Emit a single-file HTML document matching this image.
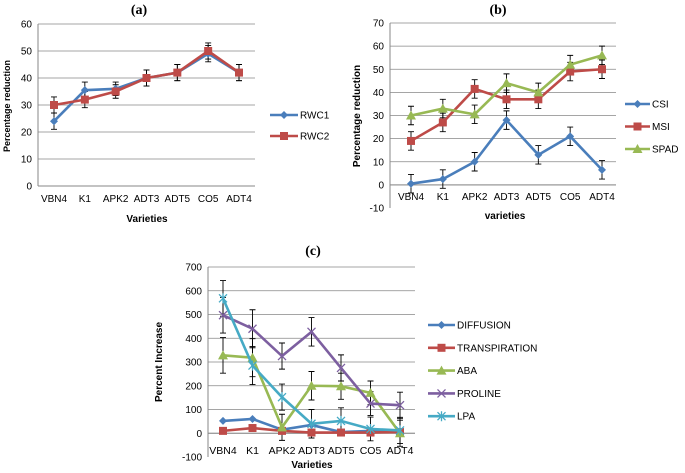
<!DOCTYPE html>
<html><head><meta charset="utf-8"><style>
body{margin:0;background:#fff;}
svg{display:block;font-family:"Liberation Sans",sans-serif;}
</style></head><body>
<svg id="s" width="685" height="473"></svg>
<script>
const cats=["VBN4","K1","APK2","ADT3","ADT5","CO5","ADT4"];
const rwc1=[24,35.5,36,40,42,49,42];
const rwc2=[30,32,35,40,42,50,42];
const rwcErr=[3,3,2.5,3,3,3,3];
const csi=[0.5,2.5,10,28,13,21,6.5];
const msi=[19,27,41.5,37,37,49,50];
const spad=[30,33,30.5,44,40,52,56];
const bErr=[4,4,4,4,4,4,4];
const diffusion=[52,60,15,35,5,10,5];
const transp=[10,22,10,3,3,3,5];
const aba=[328,318,25,200,198,170,0];
const proline=[497,440,325,427,275,125,118];
const lpa=[568,285,152,40,52,18,12];
const cErr=[75,80,55,60,55,50,55];
const ticksA=[0,10,20,30,40,50,60];
const ticksB=[-10,0,10,20,30,40,50,60,70];
const ticksC=[-100,0,100,200,300,400,500,600,700];

const S=document.getElementById('s');
const NS="http://www.w3.org/2000/svg";
function el(t,a,p){const e=document.createElementNS(NS,t);for(const k in a)e.setAttribute(k,a[k]);(p||S).appendChild(e);return e;}
const BLUE="#4a7ebb",RED="#be4b48",GREEN="#98b954",PURPLE="#7d5fa0",CYAN="#46aac5";

function marker(g,type,x,y,c){
  let m;
  if(type==="d")m=el('polygon',{points:`${x},${y-4} ${x+4},${y} ${x},${y+4} ${x-4},${y}`,fill:c},g);
  else if(type==="s")m=el('rect',{x:x-4,y:y-4,width:8,height:8,fill:c},g);
  else if(type==="t")m=el('polygon',{points:`${x},${y-5} ${x+5},${y+4} ${x-5},${y+4}`,fill:c},g);
  else if(type==="x"){m=el('path',{d:`M${x-4} ${y-4}L${x+4} ${y+4}M${x-4} ${y+4}L${x+4} ${y-4}`,stroke:c,'stroke-width':1.3,fill:'none'},g);}
  else {m=el('path',{d:`M${x-4} ${y-4}L${x+4} ${y+4}M${x-4} ${y+4}L${x+4} ${y-4}M${x} ${y-5}L${x} ${y+5}`,stroke:c,'stroke-width':1.3,fill:'none'},g);}
  
  
}

function chart(o){
  const g=el('g',{});
  
  
  const ymin=o.ticks[0],ymax=o.ticks[o.ticks.length-1];
  const Y=v=>o.y0-(v-ymin)/(ymax-ymin)*(o.y0-o.y1);
  const X=i=>o.cx0+i*(o.cx1-o.cx0)/(cats.length-1);
  o.ticks.forEach(t=>{
    if(t!==ymin)el('line',{x1:o.px0,x2:o.px1,y1:Y(t),y2:Y(t),stroke:'#878787','stroke-width':0.8},g);
    const tx=el('text',{x:o.px0-6,y:Y(t)+3.5,'text-anchor':'end','font-size':10,fill:'#000'},g);tx.textContent=t;
    
    
  });
  el('line',{x1:o.px0,x2:o.px0,y1:o.y1,y2:o.y0,stroke:'#878787'},g);
  const ay=Y(o.axisAt);
  el('line',{x1:o.px0,x2:o.px1,y1:ay,y2:ay,stroke:'#878787'},g);
  cats.forEach((c,i)=>{
    const tx=el('text',{x:X(i),y:o.labY,'text-anchor':'middle','font-size':o.catFs||10},g);tx.textContent=c;
    
    
  });
  let t=el('text',{x:o.title[0],y:o.title[1],'text-anchor':'middle','font-size':14,'font-weight':'bold','font-family':'Liberation Serif,serif'},g);t.textContent=o.title[2];
  
  t=el('text',{x:o.xt[0],y:o.xt[1],'text-anchor':'middle','font-size':10,'font-weight':'bold'},g);t.textContent=o.xt[2];
  
  t=el('text',{x:0,y:0,'text-anchor':'middle','font-size':o.ytFs||10,'font-weight':'bold',transform:`translate(${o.yt[0]},${o.yt[1]}) rotate(-90)`},g);t.textContent=o.yt[2];
  
  o.series.forEach((s,k)=>{
    if(s.noErr)return;
    s.vals.forEach((v,i)=>{
      const e=o.err[i];
      el('path',{d:`M${X(i)} ${Y(v-e)}V${Y(v+e)}M${X(i)-3} ${Y(v-e)}H${X(i)+3}M${X(i)-3} ${Y(v+e)}H${X(i)+3}`,stroke:'#000','stroke-width':0.9,fill:'none'},g);
    });
  });
  o.series.forEach((s,k)=>{
    const p=el('polyline',{points:s.vals.map((v,i)=>X(i)+','+Y(v)).join(' '),fill:'none',stroke:s.c,'stroke-width':2.6},g);
    
    
    s.vals.forEach((v,i)=>marker(g,s.m,X(i),Y(v),s.c));
    const ly=o.leg[1]+k*o.leg[3];
    const lg=el('g',{},g);
    
    
    el('line',{x1:o.leg[0],x2:o.leg[0]+o.leg[2],y1:ly,y2:ly,stroke:s.c,'stroke-width':2.6},lg);
    marker(lg,s.m,o.leg[0]+o.leg[2]/2,ly,s.c);
    const lt=el('text',{x:o.leg[0]+o.leg[2]+2,y:ly+3.5,'font-size':10},lg);lt.textContent=s.n;
  });
}

chart({name:'chart-a',ticks:ticksA,y0:186,y1:24,px0:38,px1:255,cx0:54,cx1:239,axisAt:0,labY:202,
  title:[139,14,'(a)'],xt:[147,222,'Varieties'],yt:[10,106,'Percentage reduction'],ytFs:9,
  err:rwcErr,leg:[270,115,28,21],
  series:[{n:'RWC1',vals:rwc1,c:BLUE,m:'d'},{n:'RWC2',vals:rwc2,c:RED,m:'s'}]});
chart({name:'chart-b',ticks:ticksB,y0:208,y1:23,px0:390,px1:616,cx0:411,cx1:602,axisAt:0,labY:200,
  title:[498,14,'(b)'],xt:[505,219,'varieties'],yt:[360,116,'Percentage reduction'],ytFs:10,
  err:bErr,leg:[625,104,25,22.5],
  series:[{n:'CSI',vals:csi,c:BLUE,m:'d'},{n:'MSI',vals:msi,c:RED,m:'s'},{n:'SPAD',vals:spad,c:GREEN,m:'t'}]});
chart({name:'chart-c',ticks:ticksC,y0:457,y1:267,px0:208,px1:415,cx0:223,cx1:400,axisAt:0,labY:454,catFs:10.5,
  title:[313,255,'(c)'],xt:[312,468,'Varieties'],yt:[162,362,'Percent Increase'],ytFs:10,
  err:cErr,leg:[428,325,27,22.8],
  series:[{n:'DIFFUSION',vals:diffusion,c:BLUE,m:'d',noErr:true},{n:'TRANSPIRATION',vals:transp,c:RED,m:'s',noErr:true},{n:'ABA',vals:aba,c:GREEN,m:'t'},{n:'PROLINE',vals:proline,c:PURPLE,m:'x'},{n:'LPA',vals:lpa,c:CYAN,m:'*'}]});
</script>
</body></html>
